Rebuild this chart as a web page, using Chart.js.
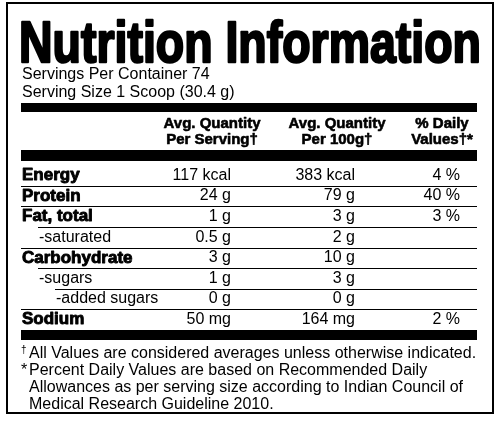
<!DOCTYPE html>
<html>
<head>
<meta charset="utf-8">
<script src="https://cdn.jsdelivr.net/npm/chart.js@4"></script>
<style>
  html, body { margin: 0; padding: 0; background: #fff; }
  #wrap { width: 500px; height: 423px; }
</style>
</head>
<body>
<div id="wrap"><canvas id="label"></canvas></div>
<script>
// ------------------------
// DATA
// ------------------------
const title = "Nutrition Information";
const servingLines = ["Servings Per Container 74", "Serving Size 1 Scoop (30.4 g)"];
const headers = [
  ["Avg. Quantity", "Per Serving\u2020"],
  ["Avg. Quantity", "Per 100g\u2020"],
  ["% Daily", "Values\u2020*"]
];
const rowNames = ["Energy", "Protein", "Fat, total", "-saturated", "Carbohydrate", "-sugars", "-added sugars", "Sodium"];
const rowBold = [true, true, true, false, true, false, false, true];
const rowIndent = [0, 0, 0, 1, 0, 1, 2, 0];
const perServing = ["117 kcal", "24 g", "1 g", "0.5 g", "3 g", "1 g", "0 g", "50 mg"];
const per100g = ["383 kcal", "79 g", "3 g", "2 g", "10 g", "3 g", "0 g", "164 mg"];
const dailyValues = ["4 %", "40 %", "3 %", "", "", "", "", "2 %"];
const footnotes = [
  ["\u2020", "All Values are considered averages unless otherwise indicated."],
  ["*", "Percent Daily Values are based on Recommended Daily"],
  ["", "Allowances as per serving size according to Indian Council of"],
  ["", "Medical Research Guideline 2010."]
];

// ------------------------
// DRAW PLUGIN
// ------------------------
const FONT = "'Liberation Sans', Arial, sans-serif";
const L = 21, R = 477;

// bold text with a thin outline so it reads as heavy as the print
function heavyText(ctx, s, x, y, w, maxW) {
  ctx.lineWidth = w;
  ctx.lineJoin = "round";
  if (maxW) {
    ctx.strokeText(s, x, y, maxW);
    ctx.fillText(s, x, y, maxW);
  } else {
    ctx.strokeText(s, x, y);
    ctx.fillText(s, x, y);
  }
}

const labelPlugin = {
  id: "labelPlugin",
  afterDraw(chart) {
    const ctx = chart.ctx;
    const y = chart.scales.y;
    const half = (y.getPixelForValue(1) - y.getPixelForValue(0)) / 2;
    ctx.save();
    ctx.fillStyle = "#000";
    ctx.strokeStyle = "#000";

    // outer border
    ctx.lineWidth = 2;
    ctx.strokeRect(7, 3, 486, 410);

    // title
    ctx.textBaseline = "alphabetic";
    ctx.textAlign = "left";
    ctx.font = "bold 58px " + FONT;
    heavyText(ctx, title, 19, 62, 2.5, 462);

    ctx.font = "16px " + FONT;
    servingLines.forEach((s, i) => ctx.fillText(s, 22, 79 + i * 18));

    // thick bars
    ctx.fillRect(L, 103, R - L, 9);
    ctx.fillRect(L, 150, R - L, 11);
    ctx.fillRect(L, 330, R - L, 10);

    // headers
    const hx = [212, 337, 442];
    ctx.textAlign = "center";
    ctx.font = "bold 15px " + FONT;
    headers.forEach((h, i) => {
      heavyText(ctx, h[0], hx[i], 128, 0.6);
      heavyText(ctx, h[1], hx[i], 144, 0.6);
    });

    // rows
    ctx.textBaseline = "middle";
    const cols = [231, 355, 460];
    rowNames.forEach((name, i) => {
      const cy = y.getPixelForValue(i);
      ctx.textAlign = "left";
      if (rowBold[i]) {
        ctx.font = "bold 17px " + FONT;
        heavyText(ctx, name, 22, cy, 0.9);
      } else {
        ctx.font = "16px " + FONT;
        ctx.fillText(name, 22 + rowIndent[i] * 17, cy);
      }
      ctx.textAlign = "right";
      ctx.font = "16px " + FONT;
      ctx.fillText(perServing[i], cols[0], cy);
      ctx.fillText(per100g[i], cols[1], cy);
      ctx.fillText(dailyValues[i], cols[2], cy);
      if (i < rowNames.length - 1) {
        const ly = Math.round(cy + half) + 0.5;
        const start = L + rowIndent[i + 1] * 17;
        ctx.lineWidth = 1;
        ctx.beginPath();
        ctx.moveTo(start, ly);
        ctx.lineTo(R, ly);
        ctx.stroke();
      }
    });

    // footnotes
    ctx.textBaseline = "alphabetic";
    ctx.textAlign = "left";
    footnotes.forEach((f, i) => {
      const by = 358 + i * 17;
      ctx.font = (f[0] === "\u2020" ? "10px " : "16px ") + FONT;
      ctx.fillText(f[0], 21, f[0] === "\u2020" ? by - 5 : by);
      ctx.font = "16px " + FONT;
      ctx.fillText(f[1], 29, by);
    });
    ctx.restore();
  }
};

// ------------------------
// CHART
// ------------------------
new Chart(document.getElementById("label"), {
  type: "bar",
  data: {
    labels: rowNames,
    datasets: [{ data: rowNames.map(() => null) }]
  },
  options: {
    indexAxis: "y",
    responsive: true,
    maintainAspectRatio: false,
    animation: false,
    layout: { padding: { top: 165, bottom: 93, left: 0, right: 0 } },
    plugins: { legend: { display: false }, tooltip: { enabled: false } },
    scales: {
      y: { type: "category", display: false },
      x: { display: false, min: 0, max: 1 }
    }
  },
  plugins: [labelPlugin]
});
</script>
</body>
</html>
